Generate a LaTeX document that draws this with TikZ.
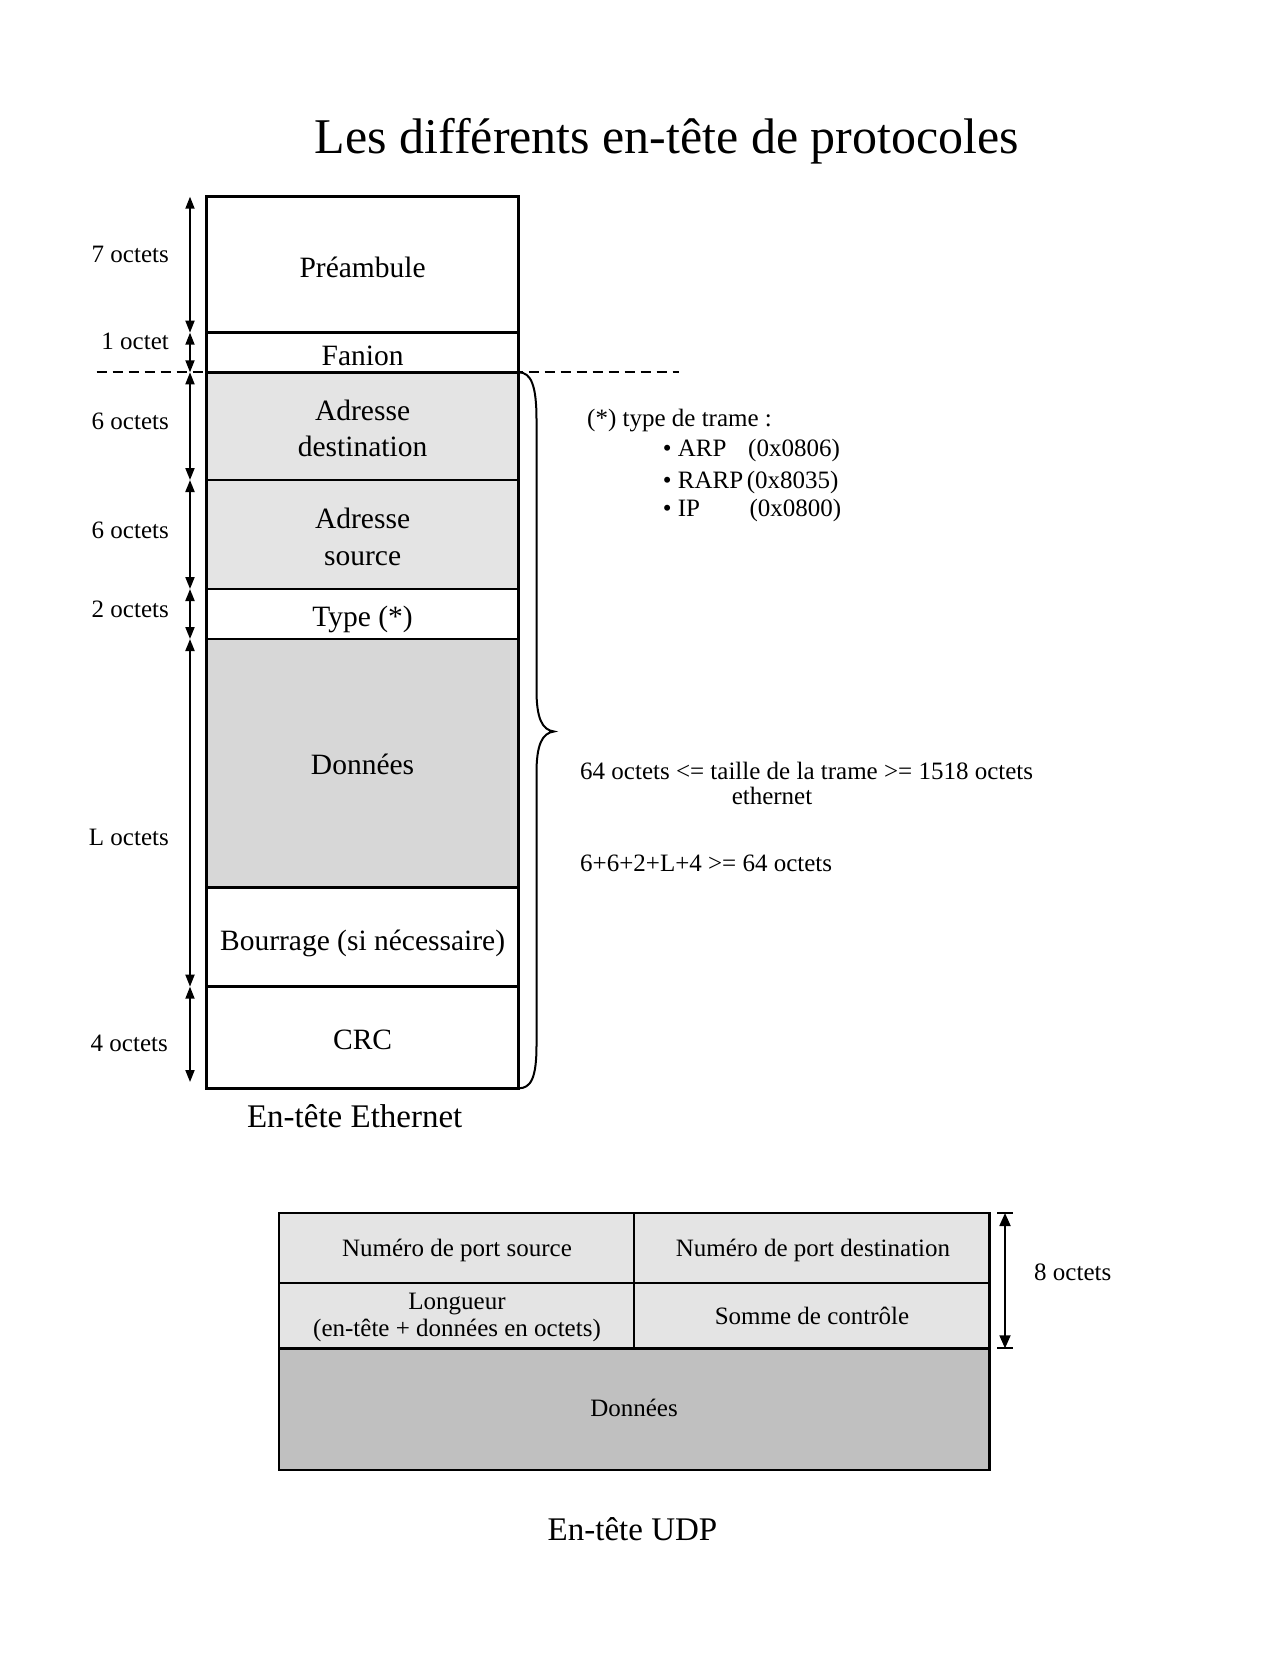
\documentclass[tikz,border=0pt]{standalone}
\usepackage{fontspec}
\setmainfont{Liberation Serif}
\usetikzlibrary{arrows.meta}
\definecolor{lightcell}{gray}{0.894}
\definecolor{ethdata}{gray}{0.845}
\definecolor{udpdata}{gray}{0.753}
\newcommand\fsmall{\fontsize{25}{30}\selectfont}
\newcommand\fcell{\fontsize{29.5}{36}\selectfont}
\newcommand\fcaption{\fontsize{33}{40}\selectfont}
\newcommand\ftitle{\fontsize{50}{60}\selectfont}
\begin{document}
\begin{tikzpicture}[x=1pt,y=-1pt,
  cell/.style={draw=black, line width=2.5pt, anchor=north west, inner sep=0pt, outer sep=0pt},
  celltxt/.style={inner sep=0pt, anchor=base, font=\fcell},
  udptxt/.style={inner sep=0pt, anchor=base, font=\fsmall},
  lbl/.style={inner sep=0pt, anchor=base east, font=\fsmall},
  note/.style={inner sep=0pt, anchor=base west, font=\fsmall},
  captxt/.style={inner sep=0pt, anchor=base, font=\fcaption},
  dimline/.style={line width=1.8pt, {Triangle[length=12pt,width=9pt]}-{Triangle[length=12pt,width=9pt]}},
  udpdim/.style={line width=1.8pt, {Triangle[length=13pt,width=11pt]}-{Triangle[length=13pt,width=11pt]}},
  bar/.style={line width=2pt},
  sepline/.style={line width=2pt, dash pattern=on 10pt off 6pt},
  bracestyle/.style={line width=2pt}
]
\fill[white] (0,0) rectangle (1280,1656);
\useasboundingbox (0,0) rectangle (1280,1656);

% Title
\node[inner sep=0pt, anchor=base, font=\ftitle] (title) at (667,154) {Les différents en-tête de protocoles};

% Ethernet frame cells
\node[cell, minimum width=311.8pt, minimum height=136pt] (pre) at (206.7,196.7) {};
\node[cell, minimum width=311.8pt, minimum height=39.6pt] (fan) at (206.7,332.7) {};
\node[cell, fill=lightcell, minimum width=311.8pt, minimum height=107.7pt] (dst) at (206.7,372.3) {};
\node[cell, fill=lightcell, minimum width=311.8pt, minimum height=109pt] (src) at (206.7,480) {};
\node[cell, minimum width=311.8pt, minimum height=50pt] (typ) at (206.7,589) {};
\node[cell, fill=ethdata, minimum width=311.8pt, minimum height=248.3pt] (don) at (206.7,639) {};
\node[cell, minimum width=311.8pt, minimum height=99.4pt] (bour) at (206.7,887.3) {};
\node[cell, minimum width=311.8pt, minimum height=101.6pt] (crc) at (206.7,986.7) {};

% Cell texts
\node[celltxt] (tpre) at (362.6,277) {Préambule};
\node[celltxt] (tfan) at (362.6,365) {Fanion};
\node[celltxt] (tdst1) at (362.6,420.7) {Adresse};
\node[celltxt] (tdst2) at (362.6,456.7) {destination};
\node[celltxt] (tsrc1) at (362.6,528.3) {Adresse};
\node[celltxt] (tsrc2) at (362.6,565) {source};
\node[celltxt] (ttyp) at (362.6,626.5) {Type (*)};
\node[celltxt] (tdon) at (362.6,774) {Données};
\node[celltxt] (tbour) at (362.6,950) {Bourrage (si nécessaire)};
\node[celltxt] (tcrc) at (362.6,1049) {CRC};

% Dashed separator
\coordinate (dsA) at (96.5,372.3);
\coordinate (dsB) at (679,372.3);
\draw[sepline] (dsA) -- (dsB);

% Left dimension arrows
\coordinate (a0) at (190,196.7);
\coordinate (a1) at (190,332.7);
\coordinate (a2) at (190,372.3);
\coordinate (a3) at (190,480);
\coordinate (a4) at (190,589);
\coordinate (a5) at (190,639);
\coordinate (a6) at (190,986.7);
\coordinate (a7) at (190,1082);
\draw[dimline] (a0) -- (a1);
\draw[dimline] (a1) -- (a2);
\draw[dimline] (a2) -- (a3);
\draw[dimline] (a3) -- (a4);
\draw[dimline] (a4) -- (a5);
\draw[dimline] (a5) -- (a6);
\draw[dimline] (a6) -- (a7);

% Left labels
\node[lbl] (l1) at (169,262.7) {7 octets};
\node[lbl] (l2) at (169,349.3) {1 octet};
\node[lbl] (l3) at (169,429.3) {6 octets};
\node[lbl] (l4) at (169,538.3) {6 octets};
\node[lbl] (l5) at (169,617.7) {2 octets};
\node[lbl] (l6) at (169,845) {L octets};
\node[lbl] (l7) at (168,1051.7) {4 octets};

% Brace
\draw[bracestyle] (dst.north east) .. controls (531,372.3) and (536.5,385) .. (536.5,420)
  -- (536.5,690) .. controls (536.5,718) and (542,730) .. (554,731.5)
  .. controls (542,733) and (536.5,745) .. (536.5,773)
  -- (536.5,1045) .. controls (536.5,1078) and (531,1088.3) .. (crc.south east);

% Notes on the right
\node[note] (n0) at (587,426.7) {(*) type de trame :};
\node[note] (n1) at (662.7,456) {• ARP};
\node[note] (n1v) at (748,456) {(0x0806)};
\node[note] (n2) at (662.7,488.3) {• RARP};
\node[note] (n2v) at (746.7,488.3) {(0x8035)};
\node[note] (n3) at (662.7,516.7) {• IP};
\node[note] (n3v) at (749.3,516.7) {(0x0800)};
\node[note] (n4) at (580,779) {64 octets <= taille de la trame >= 1518 octets};
\node[inner sep=0pt, anchor=base, font=\fsmall] (n5) at (772,804) {ethernet};
\node[note] (n6) at (580,871) {6+6+2+L+4 >= 64 octets};

% Ethernet caption
\node[captxt] (capeth) at (354.7,1127.3) {En-tête Ethernet};

% UDP header
\node[cell, fill=lightcell, minimum width=355pt, minimum height=70pt] (usp) at (279,1213) {};
\node[cell, fill=lightcell, minimum width=355.4pt, minimum height=70pt] (udp) at (634,1213) {};
\node[cell, fill=lightcell, minimum width=355pt, minimum height=65.3pt] (ulen) at (279,1283) {};
\node[cell, fill=lightcell, minimum width=355.4pt, minimum height=65.3pt] (usum) at (634,1283) {};
\node[cell, fill=udpdata, minimum width=710.4pt, minimum height=121.7pt] (udata) at (279,1348.3) {};

\node[udptxt] (tusp) at (457,1256) {Numéro de port source};
\node[udptxt] (tudp) at (813,1256) {Numéro de port destination};
\node[udptxt] (tulen1) at (457,1309.3) {Longueur};
\node[udptxt] (tulen2) at (457,1336.7) {(en-tête + données en octets)};
\node[udptxt] (tusum) at (812,1324) {Somme de contrôle};
\node[udptxt] (tudata) at (634,1416) {Données};

% UDP 8 octets dimension
\coordinate (b1l) at (997,1213);
\coordinate (b1r) at (1013,1213);
\coordinate (b2l) at (997,1348.3);
\coordinate (b2r) at (1013,1348.3);
\coordinate (u1) at (1005,1213);
\coordinate (u2) at (1005,1348.3);
\draw[bar] (b1l) -- (b1r);
\draw[bar] (b2l) -- (b2r);
\draw[udpdim] (u1) -- (u2);
\node[note] (l8) at (1034,1280) {8 octets};

% UDP caption
\node[captxt] (capudp) at (632.5,1540) {En-tête UDP};
\end{tikzpicture}
\end{document}
